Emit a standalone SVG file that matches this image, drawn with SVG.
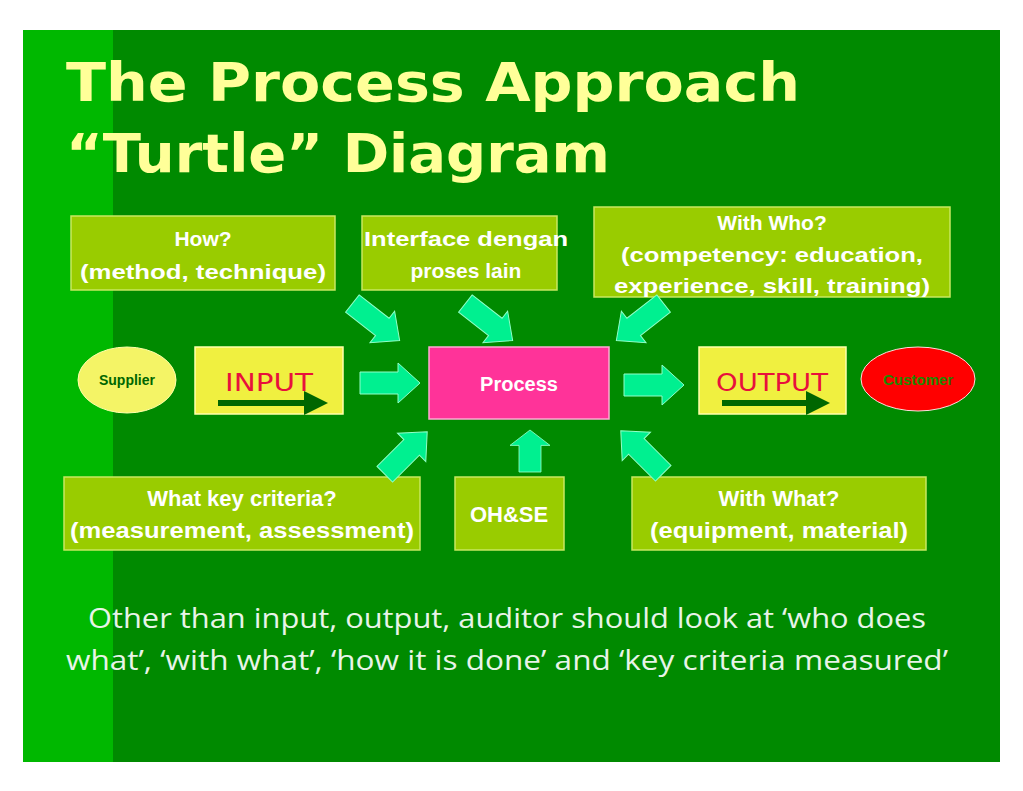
<svg xmlns="http://www.w3.org/2000/svg" width="1023" height="791" viewBox="0 0 1023 791">
<style>
.t{font-family:"Liberation Sans",Arial,sans-serif;font-weight:bold;fill:#fff;text-anchor:middle}
.box{fill:#99cc00;stroke:#c8e860;stroke-width:1.5}
.yb{fill:#f0f040;stroke:#ffffaa;stroke-width:1.5}
.io{font-family:"DejaVu Sans",sans-serif;font-size:25px;fill:#e8103c}
.ba{fill:#00f090;stroke:#90ffc8;stroke-width:1}
.ti{font-family:"DejaVu Sans","Liberation Sans",sans-serif;font-weight:bold;font-size:54px;fill:#ffff99}
</style>
<defs>
<polygon id="ba" class="ba" points="-30,-11 8,-11 8,-20 30,0 8,20 8,11 -30,11"/>
<marker id="dg" markerWidth="4" markerHeight="4" refX="1" refY="2" orient="auto"><polygon points="0,0 4,2 0,4" fill="#006600"/></marker>
</defs>
<rect x="0" y="0" width="1023" height="791" fill="#fff"/>
<rect x="23" y="30" width="977" height="732" fill="#008a00"/>
<rect x="23" y="30" width="90" height="732" fill="#00b800"/>
<text class="ti" x="66" y="101" textLength="734" lengthAdjust="spacingAndGlyphs">The Process Approach</text>
<text class="ti" x="66" y="172" textLength="544" lengthAdjust="spacingAndGlyphs">“Turtle” Diagram</text>
<g id="how"><rect class="box" x="71" y="216" width="264" height="74"/><text class="t" font-size="21"><tspan x="203" y="246">How?</tspan><tspan x="203" y="279" textLength="246" lengthAdjust="spacingAndGlyphs">(method, technique)</tspan></text></g>
<g id="interface"><rect class="box" x="362" y="216" width="195" height="74"/><text class="t" font-size="21"><tspan x="466" y="246" textLength="204" lengthAdjust="spacingAndGlyphs">Interface dengan</tspan><tspan x="466" y="278">proses lain</tspan></text></g>
<g id="withwho"><rect class="box" x="594" y="207" width="356" height="90"/><text class="t" font-size="21"><tspan x="772" y="230">With Who?</tspan><tspan x="772" y="262" textLength="302" lengthAdjust="spacingAndGlyphs">(competency: education,</tspan><tspan x="772" y="293" textLength="316" lengthAdjust="spacingAndGlyphs">experience, skill, training)</tspan></text></g>
<g id="supplier"><ellipse cx="127" cy="380" rx="49" ry="33" fill="#f4f466" stroke="#ffffaa"/><text class="t" font-size="14" x="127" y="385" style="fill:#006600">Supplier</text></g>
<g id="input"><rect class="yb" x="195" y="347" width="148" height="67"/><text class="io" x="225" y="391" textLength="88" lengthAdjust="spacingAndGlyphs">INPUT</text><line x1="218" y1="403" x2="310" y2="403" stroke="#006600" stroke-width="6" marker-end="url(#dg)"/></g>
<g id="process"><rect x="429" y="347" width="180" height="72" fill="#ff3399" stroke="#ffaad4" stroke-width="1.5"/><text class="t" font-size="20" x="519" y="391">Process</text></g>
<g id="output"><rect class="yb" x="699" y="347" width="147" height="67"/><text class="io" x="716" y="391" textLength="112" lengthAdjust="spacingAndGlyphs">OUTPUT</text><line x1="722" y1="403" x2="812" y2="403" stroke="#006600" stroke-width="6" marker-end="url(#dg)"/></g>
<g id="customer"><ellipse cx="918" cy="379" rx="57" ry="32" fill="#ff0000" stroke="#ffdddd"/><text class="t" font-size="15" x="918" y="385" style="fill:#228800">Customer</text></g>
<g id="criteria"><rect class="box" x="64" y="477" width="356" height="73"/><text class="t" font-size="22"><tspan x="242" y="506">What key criteria?</tspan><tspan x="242" y="538" textLength="344" lengthAdjust="spacingAndGlyphs">(measurement, assessment)</tspan></text></g>
<g id="ohse"><rect class="box" x="455" y="477" width="109" height="73"/><text class="t" font-size="22" x="509" y="522">OH&amp;SE</text></g>
<g id="withwhat"><rect class="box" x="632" y="477" width="294" height="73"/><text class="t" font-size="22"><tspan x="779" y="506">With What?</tspan><tspan x="779" y="538" textLength="258" lengthAdjust="spacingAndGlyphs">(equipment, material)</tspan></text></g>
<g id="connectors">
<use href="#ba" transform="translate(390,383)"/>
<use href="#ba" transform="translate(654,385)"/>
<use href="#ba" transform="translate(376,322) rotate(38)"/>
<use href="#ba" transform="translate(489,322) rotate(38)"/>
<use href="#ba" transform="translate(640,322) rotate(142)"/>
<use href="#ba" transform="translate(406,453) rotate(-45)"/>
<use href="#ba" transform="translate(530,451) rotate(-90) scale(0.7,1)"/>
<use href="#ba" transform="translate(642,452) rotate(-135)"/>
</g>
<text style="font-family:'Open Sans','DejaVu Sans',sans-serif;font-size:28px;fill:#e8f4e8"><tspan x="88" y="628" textLength="838" lengthAdjust="spacingAndGlyphs">Other than input, output, auditor should look at ‘who does</tspan><tspan x="66" y="670" textLength="882" lengthAdjust="spacingAndGlyphs">what’, ‘with what’, ‘how it is done’ and ‘key criteria measured’</tspan></text>
</svg>
